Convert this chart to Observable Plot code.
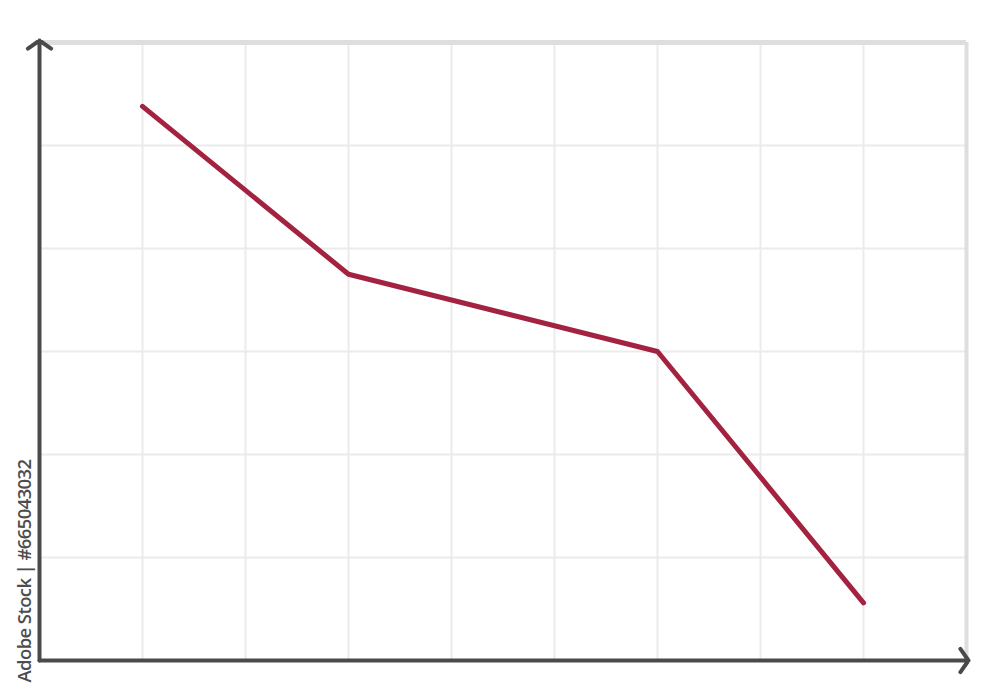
<!DOCTYPE html>
<html>
<head>
<meta charset="utf-8">
<script src="https://cdn.jsdelivr.net/npm/d3@7"></script>
<script src="https://cdn.jsdelivr.net/npm/@observablehq/plot@0.6"></script>
<style>
  html, body { margin: 0; padding: 0; background: #fff; }
  #wrap { position: relative; width: 1000px; height: 700px; }
  #credit {
    position: absolute; left: 23px; top: 571px;
    transform: translate(-50%, -50%) rotate(-90deg);
    white-space: nowrap; font-family: "Open Sans", sans-serif;
    font-size: 18.5px; font-weight: 600; color: #4d4d4d; letter-spacing: -0.6px;
  }
</style>
</head>
<body>
<div id="wrap"><div id="chart"></div><div id="credit">Adobe Stock | #665043032</div></div>
<script>
// data
const xValues = [1, 3, 6, 8];
const yValues = [5.38, 3.75, 3.0, 0.56];
const xGrid = [1, 2, 3, 4, 5, 6, 7, 8];
const yGrid = [1, 2, 3, 4, 5];
const xMax = 9;
const yMax = 6;

const points = xValues.map((x, i) => ({x, y: yValues[i]}));

const chart = Plot.plot({
  width: 1000,
  height: 700,
  marginLeft: 39,
  marginRight: 34,
  marginTop: 42,
  marginBottom: 40,
  x: {domain: [0, xMax], axis: null},
  y: {domain: [0, yMax], axis: null},
  marks: [
    Plot.ruleX(xGrid, {stroke: "#ebebeb", strokeWidth: 2}),
    Plot.ruleY(yGrid, {stroke: "#ebebeb", strokeWidth: 2}),
    Plot.ruleY([yMax], {stroke: "#dedede", strokeWidth: 5}),
    Plot.ruleX([xMax], {stroke: "#dedede", strokeWidth: 4}),
    Plot.line(points, {x: "x", y: "y", stroke: "#a3223f", strokeWidth: 5, strokeLinecap: "round", strokeLinejoin: "round"}),
    Plot.arrow([{x1: 0, y1: 0, x2: xMax, y2: 0}], {x1: "x1", y1: "y1", x2: "x2", y2: "y2", stroke: "#4a4a4a", strokeWidth: 4, headLength: 5.3, headAngle: 110, insetEnd: -2, strokeLinecap: "round", strokeLinejoin: "round"}),
    Plot.arrow([{x1: 0, y1: 0, x2: 0, y2: yMax}], {x1: "x1", y1: "y1", x2: "x2", y2: "y2", stroke: "#4a4a4a", strokeWidth: 4, headLength: 5.3, headAngle: 110, insetEnd: -2, strokeLinecap: "round", strokeLinejoin: "round"})
  ]
});
document.getElementById("chart").appendChild(chart);
</script>
</body>
</html>
